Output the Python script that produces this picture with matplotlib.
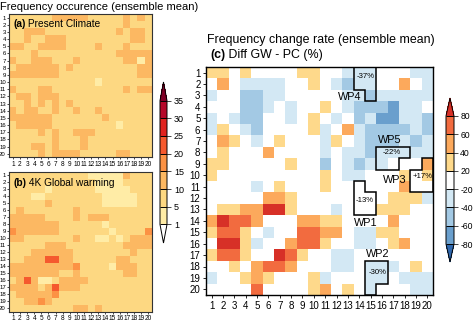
import numpy as np
import matplotlib
matplotlib.use("Agg")
import matplotlib.pyplot as plt
from matplotlib.colors import ListedColormap, BoundaryNorm
from matplotlib.patches import Polygon

plt.rcParams['font.family'] = ['Liberation Sans', 'DejaVu Sans']

# ---------------- data ----------------
grid_ticks = list(range(1, 21))

present_climate = [
    [7,7,7,7,7,7,12,12,12,12,12,7,7,7,7,7,12,7,12,7],
    [7,7,7,7,7,7,7,7,7,7,7,7,7,7,7,7,12,7,7,7],
    [7,7,12,12,12,7,7,7,7,7,7,7,7,7,7,12,7,12,12,7],
    [7,7,12,7,7,12,12,12,7,7,7,7,7,7,7,7,7,12,12,7],
    [12,12,7,7,12,12,12,12,7,7,7,7,12,7,7,7,12,7,7,7],
    [7,7,7,12,7,7,7,7,7,7,7,7,7,7,7,12,12,12,12,12],
    [12,7,7,12,12,12,7,7,7,12,7,7,7,7,7,7,12,12,3,12],
    [7,12,12,12,12,12,12,7,12,7,7,7,7,7,7,7,7,7,12,12],
    [12,12,12,12,12,12,12,7,7,7,7,7,7,7,7,7,7,7,12,12],
    [7,7,7,7,7,7,7,7,7,7,7,7,3,7,7,7,7,7,7,7],
    [12,7,7,7,12,12,7,7,7,7,7,7,7,7,7,7,12,7,12,12],
    [7,12,12,7,12,12,12,7,7,7,7,7,7,7,7,7,7,7,7,7],
    [7,7,12,7,12,7,12,7,12,7,7,7,7,7,7,7,7,7,7,7],
    [12,7,12,12,7,7,12,7,7,12,7,7,12,7,7,7,7,7,7,7],
    [12,12,12,12,12,12,7,7,7,7,7,7,7,12,7,7,7,7,7,7],
    [7,12,12,12,12,12,7,7,7,7,7,7,7,7,7,3,7,7,7,7],
    [7,7,7,7,12,7,12,7,7,12,12,12,7,7,7,7,7,7,7,7],
    [7,7,7,7,7,7,12,7,7,7,12,7,7,7,7,7,7,7,7,7],
    [7,7,7,12,12,7,12,7,7,7,12,7,7,7,7,7,7,7,7,7],
    [7,7,7,7,12,7,12,12,12,12,7,7,7,7,7,12,12,7,7,7],
]

global_warming = [
    [7,7,7,7,7,7,7,7,7,7,7,3,3,3,3,3,12,7,7,7],
    [7,7,7,7,7,7,7,7,7,7,7,7,3,3,3,3,7,7,7,7],
    [7,7,7,7,7,3,7,7,7,7,7,7,3,3,3,3,3,7,7,7],
    [7,7,7,3,3,7,7,7,7,7,7,7,7,3,3,3,3,3,7,7],
    [7,7,7,7,7,12,7,7,7,7,7,7,7,3,3,3,3,3,7,7],
    [7,12,7,7,7,7,7,7,7,12,7,7,7,7,7,7,7,7,7,7],
    [12,12,12,12,12,7,7,7,7,12,7,12,12,12,7,7,7,7,7,7],
    [12,12,12,12,12,12,12,7,7,7,7,7,7,3,7,7,7,7,7,7],
    [17,12,12,12,12,12,12,7,7,7,7,7,7,7,3,7,7,7,7,17],
    [12,12,7,7,7,7,7,7,7,12,7,7,3,3,7,3,7,12,12,12],
    [7,7,7,7,7,12,12,12,7,7,7,7,7,7,7,7,12,12,12,12],
    [7,7,7,12,12,12,12,12,12,7,7,7,7,7,7,7,7,12,7,7],
    [7,7,12,12,12,22,22,12,12,7,7,7,7,7,7,12,12,7,7,7],
    [12,12,12,12,12,12,12,12,12,17,7,7,7,7,3,12,12,12,7,7],
    [12,12,12,12,12,12,12,7,7,12,7,7,7,7,7,7,12,12,7,7],
    [7,12,22,12,3,3,7,12,12,12,12,7,7,7,7,7,7,7,7,7],
    [12,12,12,12,7,12,22,12,12,12,7,7,7,7,7,7,7,7,7,7],
    [7,12,12,12,12,12,17,7,7,7,7,7,7,7,7,7,7,7,7,7],
    [7,7,12,12,17,12,7,7,7,7,7,7,7,7,7,7,7,7,7,7],
    [7,7,7,7,7,7,7,7,7,12,12,7,12,7,7,7,7,7,7,7],
]

change_rate = [
    [30,30,0,30,0,0,0,0,30,30,0,0,-30,-30,-30,0,0,0,-30,-30],
    [0,50,0,-30,-30,-30,-30,0,0,30,0,-30,-50,-30,-30,0,0,50,0,-30],
    [-30,0,0,-50,-50,-30,-30,0,0,0,0,0,-30,-30,-50,-30,-30,-30,-30,-30],
    [0,0,0,-50,-50,-30,0,-30,0,0,30,0,-30,-50,-50,-50,-70,-30,-30,0],
    [-30,0,-30,-50,-50,0,0,-30,0,30,0,-30,0,-50,-30,-70,-70,-30,-30,-50],
    [-30,30,0,-30,-50,0,0,0,0,30,-30,0,50,-30,-50,-50,-50,-50,-30,-50],
    [0,50,30,0,-30,0,30,0,0,0,-30,30,0,-30,-50,-50,-50,-30,-50,-30],
    [0,30,0,0,0,50,0,0,0,0,-30,0,-30,-30,-50,-30,-30,-30,-30,-30],
    [30,30,0,0,0,0,0,30,0,0,-50,0,-30,-50,-30,-30,0,0,0,50],
    [30,0,0,0,0,0,0,0,0,0,30,0,-30,-30,0,0,0,30,0,30],
    [0,0,0,0,-30,0,30,0,0,0,30,0,0,0,0,0,0,50,0,0],
    [0,0,0,0,0,50,50,30,0,0,0,0,0,0,0,0,30,30,30,-30],
    [0,30,30,50,50,90,90,30,0,0,0,-30,0,0,0,30,30,30,0,0],
    [50,90,70,70,50,0,0,0,50,50,30,30,0,0,0,0,50,0,0,0],
    [30,70,70,30,0,-30,0,0,70,70,50,50,0,-30,-30,30,30,0,0,0],
    [0,90,90,30,-30,0,0,50,70,70,30,0,0,-30,-30,0,30,50,0,0],
    [30,70,70,30,0,0,90,70,30,0,0,-30,-30,0,0,0,0,0,0,0],
    [0,0,30,0,50,70,70,50,0,0,0,-30,-30,0,-30,-30,-30,0,30,0],
    [-30,0,0,30,50,30,0,0,0,30,-30,0,0,0,-30,-30,0,-30,-30,-30],
    [0,0,0,0,70,0,0,0,0,30,50,0,30,0,-30,0,0,0,-30,-30],
]

freq_levels = [1, 5, 10, 15, 20, 25, 30, 35]
change_levels = [-80, -60, -40, -20, 20, 40, 60, 80]
change_labels = ['-80', '-60', '-40', '-20', '20', '40', '60', '80']

# region outlines (cell-edge coordinates) and labels
regions = {
    'WP4': [(13.5, 0.5), (13.5, 2.5), (14.5, 2.5), (14.5, 3.5), (15.5, 3.5), (15.5, 0.5)],
    'WP5': [(15.5, 7.5), (15.5, 9.5), (17.5, 9.5), (17.5, 8.5), (18.5, 8.5), (18.5, 7.5)],
    'WP3': [(18.5, 9.5), (18.5, 11.5), (20.5, 11.5), (20.5, 8.5), (19.5, 8.5), (19.5, 9.5)],
    'WP1': [(13.5, 10.5), (13.5, 13.5), (15.5, 13.5), (15.5, 11.5), (14.5, 11.5), (14.5, 10.5)],
    'WP2': [(14.5, 17.5), (14.5, 20.5), (15.5, 20.5), (15.5, 19.5), (16.5, 19.5), (16.5, 17.5)],
}
region_names = ['WP4', 'WP5', 'WP3', 'WP1', 'WP2']
region_name_xy = [(13.2, 3.1), (16.7, 6.9), (17.1, 10.4), (14.6, 14.2), (15.6, 16.9)]
region_pct = ['-37%', '-22%', '+17%', '-13%', '-30%']
region_pct_xy = [(14.6, 1.3), (16.9, 8.0), (19.6, 10.1), (14.45, 12.2), (15.65, 18.55)]

# ---------------- styling ----------------
W, H = 474, 323
fig = plt.figure(figsize=(W / 100, H / 100), dpi=100)


def rect(x0, y0, x1, y1):
    return [x0 / W, 1 - y1 / H, (x1 - x0) / W, (y1 - y0) / H]


freq_cmap = ListedColormap(['#ffeca6', '#fdd882', '#fcb862', '#fc9244',
                            '#f5592e', '#e0231f', '#b5082a'])
freq_cmap.set_under('white')
freq_cmap.set_over('#800026')
freq_norm = BoundaryNorm(freq_levels, freq_cmap.N)

chg_cmap = ListedColormap(['#6a9fcd', '#a3c9e4', '#d3e8f4', 'white',
                           '#fed98b', '#fca95c', '#f26b3f'])
chg_cmap.set_under('#2f67ad')
chg_cmap.set_over('#d73027')
chg_norm = BoundaryNorm(change_levels, chg_cmap.N)

edges = np.arange(0.5, 21.0, 1.0)


def style_small(ax):
    ax.set_xlim(0.5, 20.5)
    ax.set_ylim(20.5, 0.5)
    ax.set_xticks(grid_ticks)
    ax.set_yticks(grid_ticks)
    ax.set_xticklabels([str(t) for t in grid_ticks], fontsize=4.7)
    ax.set_yticklabels([str(t) for t in grid_ticks], fontsize=4.3)
    ax.tick_params(length=1.5, width=0.5, pad=1)
    for s in ax.spines.values():
        s.set_linewidth(0.8)
        s.set_color('#333333')


ax_a = fig.add_axes(rect(9.3, 14, 151.7, 157.3))
ax_a.pcolormesh(edges, edges, np.array(present_climate), cmap=freq_cmap, norm=freq_norm)
style_small(ax_a)
ta = ax_a.text(0.026, 0.93, '(a)', transform=ax_a.transAxes, fontsize=7.3,
               fontweight='bold', va='center', ha='left')
ax_a.annotate(' Present Climate', xy=(1, 0.5), xycoords=ta, va='center', ha='left', fontsize=7.3)

ax_b = fig.add_axes(rect(9.3, 171.7, 151.7, 311.7))
mb = ax_b.pcolormesh(edges, edges, np.array(global_warming), cmap=freq_cmap, norm=freq_norm)
style_small(ax_b)
tb = ax_b.text(0.026, 0.92, '(b)', transform=ax_b.transAxes, fontsize=7.3,
               fontweight='bold', va='center', ha='left')
ax_b.annotate(' 4K Global warming', xy=(1, 0.5), xycoords=tb, va='center', ha='left', fontsize=7.3)

fig.text(0.0, 1 - 7 / H, 'Frequency occurence (ensemble mean)', fontsize=8.0,
         va='center', ha='left')

cax1 = fig.add_axes(rect(160, 82, 167, 243))
cb1 = fig.colorbar(mb, cax=cax1, extend='both', extendfrac=0.15, drawedges=True,
                   ticks=freq_levels)
cb1.ax.tick_params(labelsize=6.5, length=3, width=0.5, pad=2)
cb1.outline.set_linewidth(0.7)
cb1.dividers.set_linewidth(0.7)

# panel c
ax_c = fig.add_axes(rect(206, 67, 433, 295))
mc = ax_c.pcolormesh(edges, edges, np.array(change_rate), cmap=chg_cmap, norm=chg_norm)
ax_c.set_xlim(0.5, 20.5)
ax_c.set_ylim(20.5, 0.5)
ax_c.set_xticks(grid_ticks)
ax_c.set_yticks(grid_ticks)
ax_c.set_xticklabels([str(t) for t in grid_ticks], fontsize=7.0)
ax_c.set_yticklabels([str(t) for t in grid_ticks], fontsize=7.0)
ax_c.tick_params(length=2.5, width=0.6, pad=1.5)
for s in ax_c.spines.values():
    s.set_linewidth(1.0)

for name in region_names:
    ax_c.add_patch(Polygon(regions[name], closed=True, fill=False,
                           edgecolor='black', linewidth=1.1, zorder=3))
for name, (x, y) in zip(region_names, region_name_xy):
    ax_c.text(x, y, name, fontsize=7.8, ha='center', va='center', zorder=4)
for pct, (x, y) in zip(region_pct, region_pct_xy):
    ax_c.text(x, y, pct, fontsize=5.6, ha='center', va='center', zorder=4)

fig.text(207 / W, 1 - 40 / H, 'Frequency change rate (ensemble mean)', fontsize=8.9,
         va='center', ha='left')
tc = fig.text(210 / W, 1 - 55 / H, '(c)', fontsize=8.9, fontweight='bold',
              va='center', ha='left')
ax_c.annotate(' Diff GW - PC (%)', xy=(1, 0.5), xycoords=tc, va='center', ha='left',
              fontsize=8.9, annotation_clip=False)

cax2 = fig.add_axes(rect(446, 98, 454, 262))
cb2 = fig.colorbar(mc, cax=cax2, extend='both', extendfrac=0.14, drawedges=True,
                   ticks=change_levels)
cb2.ax.set_yticklabels(change_labels)
cb2.ax.tick_params(labelsize=6.2, length=3, width=0.5, pad=1.5)
cb2.outline.set_linewidth(0.7)
cb2.dividers.set_linewidth(0.7)

fig.savefig('out.png', dpi=100)
